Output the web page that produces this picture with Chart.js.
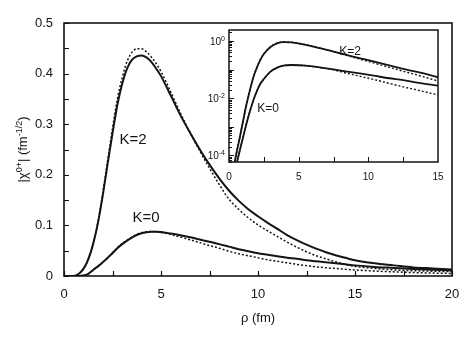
<!DOCTYPE html>
<html>
<head>
<meta charset="utf-8">
<script src="https://cdn.jsdelivr.net/npm/chart.js@4/dist/chart.umd.min.js"></script>
<style>
  html, body { margin: 0; padding: 0; background: #fff; }
  #wrap { position: relative; width: 474px; height: 345px; }
  #wrap canvas { position: absolute; left: 0; top: 0; }
</style>
</head>
<body>
<div id="wrap">
  <canvas id="main" width="474" height="345"></canvas>
  <canvas id="inset" width="474" height="345"></canvas>
</div>
<script>
// ---- main panel: |chi| on a linear scale, rho from 0 to 20 fm ----
const rhoMain = [0, 0.5, 0.75, 1.0, 1.25, 1.5, 1.75, 2.0, 2.25, 2.5, 2.75, 3.0, 3.25, 3.5, 3.75,
  4.0, 4.25, 4.5, 4.75, 5.0, 5.5, 6.0, 6.5, 7.0, 7.5, 8.0, 8.5, 9.0, 9.5, 10, 10.5, 11, 11.5,
  12, 12.5, 13, 13.5, 14, 14.5, 15, 16, 17, 18, 19, 20];

const k2Solid = [0, 0, 0.004, 0.014, 0.033, 0.063, 0.105, 0.16, 0.222, 0.282, 0.338, 0.38, 0.41, 0.427, 0.434,
  0.436, 0.432, 0.423, 0.41, 0.395, 0.357, 0.318, 0.283, 0.25, 0.22, 0.193, 0.169, 0.149, 0.132, 0.118, 0.105, 0.093, 0.081,
  0.071, 0.062, 0.054, 0.047, 0.041, 0.036, 0.031, 0.025, 0.021, 0.017, 0.015, 0.013];

const k2Dotted = [0, 0, 0.004, 0.014, 0.033, 0.064, 0.107, 0.164, 0.228, 0.292, 0.35, 0.392, 0.424, 0.442, 0.449,
  0.449, 0.443, 0.433, 0.42, 0.404, 0.364, 0.322, 0.283, 0.247, 0.213, 0.181, 0.152, 0.132, 0.115, 0.101, 0.089, 0.078, 0.067,
  0.057, 0.048, 0.04, 0.034, 0.028, 0.023, 0.019, 0.015, 0.012, 0.0105, 0.0095, 0.0085];

const k0Solid = [0, 0, 0, 0.001, 0.004, 0.012, 0.019, 0.027, 0.036, 0.045, 0.055, 0.063, 0.07, 0.076, 0.081,
  0.0845, 0.0865, 0.0875, 0.0875, 0.087, 0.084, 0.0805, 0.0765, 0.072, 0.0675, 0.063, 0.058, 0.053, 0.049, 0.045, 0.042, 0.039, 0.036,
  0.034, 0.031, 0.029, 0.027, 0.025, 0.023, 0.021, 0.018, 0.016, 0.014, 0.0125, 0.011];

const k0Dotted = [0, 0, 0, 0.001, 0.004, 0.012, 0.019, 0.027, 0.036, 0.046, 0.056, 0.064, 0.071, 0.077, 0.082,
  0.0855, 0.0875, 0.088, 0.0875, 0.086, 0.082, 0.077, 0.0715, 0.066, 0.06, 0.055, 0.049, 0.044, 0.04, 0.036, 0.032, 0.029, 0.026,
  0.023, 0.0205, 0.018, 0.0163, 0.0148, 0.0133, 0.012, 0.0099, 0.0082, 0.0068, 0.0058, 0.005];

// ---- inset: the same functions on a logarithmic scale, rho from 0 to 15 fm ----
const rhoInset = [0.3, 0.45, 0.6, 0.8, 1.0, 1.25, 1.5, 1.75, 2.0, 2.25, 2.5, 3.0, 3.5, 3.9, 4.5,
  5.5, 6.5, 7.5, 8.5, 9.5, 10.5, 11.5, 12.5, 13.5, 14.5, 15];

const k2SolidLog = [3.2e-5, 7.5e-5, 1.7e-4, 4.9e-4, 1.5e-3, 5.9e-3, 0.019, 0.054, 0.117, 0.22, 0.35, 0.63, 0.85, 0.92, 0.89,
  0.74, 0.56, 0.43, 0.32, 0.245, 0.187, 0.14, 0.107, 0.083, 0.063, 0.054];

const k2DottedLog = [3.2e-5, 7.6e-5, 1.75e-4, 5.0e-4, 1.55e-3, 6.1e-3, 0.02, 0.056, 0.12, 0.23, 0.36, 0.65, 0.87, 0.94, 0.9,
  0.75, 0.57, 0.43, 0.31, 0.225, 0.165, 0.12, 0.088, 0.065, 0.047, 0.04];

const k0SolidLog = [1.35e-5, 3.0e-5, 6.6e-5, 1.66e-4, 4.1e-4, 1.26e-3, 3.5e-3, 8.5e-3, 0.0178, 0.032, 0.047, 0.087, 0.12, 0.138, 0.145,
  0.138, 0.12, 0.102, 0.085, 0.072, 0.06, 0.05, 0.043, 0.035, 0.03, 0.0275];

const k0DottedLog = [1.35e-5, 3.0e-5, 6.6e-5, 1.66e-4, 4.1e-4, 1.26e-3, 3.5e-3, 8.5e-3, 0.0178, 0.032, 0.047, 0.087, 0.12, 0.138, 0.145,
  0.138, 0.118, 0.098, 0.074, 0.057, 0.044, 0.033, 0.025, 0.0195, 0.0148, 0.0129];

// tick values
const mainXMajor = [0, 5, 10, 15, 20];
const mainXMinor = [2.5, 7.5, 12.5, 17.5];
const mainYTicks = [0, 0.05, 0.1, 0.15, 0.2, 0.25, 0.3, 0.35, 0.4, 0.45, 0.5];
const insetXTicks = [0, 2.5, 5, 7.5, 10, 12.5];
const insetYLabelled = [1, 1e-2, 1e-4];
const insetYLabels = [['10', '0'], ['10', '-2'], ['10', '-4']];

// curve labels: [text, rho, value]
const mainCurveLabels = [['K=2', 3.56, 0.269], ['K=0', 4.23, 0.115]];
const insetCurveLabels = [['K=2', 8.69, 0.43], ['K=0', 2.8, 0.0042]];

const FONT = '"Liberation Sans", Arial, Helvetica, sans-serif';
const INK = '#141414';

function pairs(xs, ys) { return xs.map((x, i) => ({ x: x, y: ys[i] })); }

function lineSet(xs, ys, dotted, w) {
  return {
    data: pairs(xs, ys),
    borderColor: INK,
    borderWidth: dotted ? w * 0.75 : w,
    borderDash: dotted ? [2, 2] : [],
    pointRadius: 0,
    cubicInterpolationMode: 'monotone',
    fill: false
  };
}

// draws a closed frame around the plot area plus inward tick marks
const framePlugin = {
  id: 'frame',
  afterDatasetsDraw(chart, args, o) {
    const { ctx, chartArea: a } = chart;
    const xs = chart.scales.x, ys = chart.scales.y;
    ctx.save();
    ctx.strokeStyle = INK;
    ctx.lineWidth = o.tickWidth;
    ctx.beginPath();
    (o.xTicks || []).forEach(v => {
      const p = Math.round(xs.getPixelForValue(v)) + 0.5;
      ctx.moveTo(p, a.bottom); ctx.lineTo(p, a.bottom - o.tickLen);
    });
    (o.yTicks || []).forEach(t => {
      const v = Array.isArray(t) ? t[0] : t;
      const len = Array.isArray(t) ? t[1] : o.tickLen;
      const p = Math.round(ys.getPixelForValue(v)) + 0.5;
      ctx.moveTo(a.left, p); ctx.lineTo(a.left + len, p);
    });
    ctx.stroke();
    ctx.lineWidth = o.lineWidth;
    ctx.strokeRect(a.left, a.top, a.right - a.left, a.bottom - a.top);
    // curve labels
    ctx.fillStyle = INK;
    ctx.font = o.labelFont;
    ctx.textAlign = 'center';
    ctx.textBaseline = 'middle';
    (o.labels || []).forEach(l => {
      ctx.fillText(l[0], xs.getPixelForValue(l[1]), ys.getPixelForValue(l[2]));
    });
    ctx.restore();
  }
};

// text runs with raised exponents
function drawRuns(ctx, runs, x, y, size, align) {
  const supSize = Math.round(size * 0.68);
  const w = runs.map(r => { ctx.font = (r.sup ? supSize : size) + 'px ' + FONT; return ctx.measureText(r.t).width; });
  const total = w.reduce((s, v) => s + v, 0);
  let cx = align === 'right' ? x - total : x - total / 2;
  ctx.textAlign = 'left';
  ctx.textBaseline = 'alphabetic';
  runs.forEach((r, i) => {
    ctx.font = (r.sup ? supSize : size) + 'px ' + FONT;
    ctx.fillText(r.t, cx, r.sup ? y - size * 0.42 : y);
    cx += w[i];
  });
}

const titlePlugin = {
  id: 'titles',
  afterDraw(chart) {
    const { ctx, chartArea: a } = chart;
    ctx.save();
    ctx.fillStyle = INK;
    ctx.font = '13px ' + FONT;
    ctx.textAlign = 'center';
    ctx.textBaseline = 'middle';
    ctx.fillText('\u03c1 (fm)', (a.left + a.right) / 2, 318);
    ctx.translate(27, (a.top + a.bottom) / 2);
    ctx.rotate(-Math.PI / 2);
    drawRuns(ctx, [{ t: '|\u03c7' }, { t: '0+', sup: true }, { t: '| (fm' }, { t: '-1/2', sup: true }, { t: ')' }], 0, 0, 13, 'center');
    ctx.restore();
  }
};

const logLabelPlugin = {
  id: 'loglabels',
  afterDraw(chart) {
    const { ctx, chartArea: a } = chart;
    const ys = chart.scales.y;
    ctx.save();
    ctx.fillStyle = INK;
    insetYLabelled.forEach((v, i) => {
      const p = ys.getPixelForValue(v);
      drawRuns(ctx, [{ t: insetYLabels[i][0] }, { t: insetYLabels[i][1], sup: true }], a.left - 4, p + 4, 10, 'right');
    });
    ctx.restore();
  }
};

Chart.defaults.font.family = FONT;
Chart.defaults.color = INK;

// main chart
new Chart(document.getElementById('main'), {
  type: 'line',
  data: {
    datasets: [
      lineSet(rhoMain, k2Solid, false, 2),
      lineSet(rhoMain, k2Dotted, true, 2),
      lineSet(rhoMain, k0Solid, false, 2),
      lineSet(rhoMain, k0Dotted, true, 2)
    ]
  },
  options: {
    responsive: false,
    devicePixelRatio: 1,
    animation: false,
    layout: { padding: { left: 0, top: 23, right: 22, bottom: 0 } },
    plugins: {
      legend: { display: false },
      tooltip: { enabled: false },
      frame: {
        lineWidth: 1.6, tickWidth: 1.2, tickLen: 5,
        xTicks: mainXMajor.concat(mainXMinor),
        yTicks: mainYTicks,
        labels: mainCurveLabels,
        labelFont: '15px ' + FONT
      }
    },
    scales: {
      x: {
        type: 'linear', min: 0, max: 20,
        grid: { display: false, drawTicks: false },
        border: { display: false },
        afterBuildTicks: s => { s.ticks = mainXMajor.map(v => ({ value: v })); },
        ticks: { font: { size: 13 }, padding: 11, maxRotation: 0, callback: v => String(v) },
        afterFit: s => { s.height = 69; }
      },
      y: {
        type: 'linear', min: 0, max: 0.5,
        grid: { display: false, drawTicks: false },
        border: { display: false },
        ticks: { stepSize: 0.1, font: { size: 13 }, padding: 11, callback: v => String(+v.toFixed(2)) },
        afterFit: s => { s.width = 64; }
      }
    }
  },
  plugins: [framePlugin, titlePlugin]
});

// inset minor ticks on the log axis
const insetYTicks = [];
for (let e = -5; e <= 0; e++) {
  for (let m = 1; m <= 9; m++) {
    const v = m * Math.pow(10, e);
    if (v >= 5.9e-5 && v <= 2.43) insetYTicks.push([v, m === 1 ? 5 : 3]);
  }
}

new Chart(document.getElementById('inset'), {
  type: 'line',
  data: {
    datasets: [
      lineSet(rhoInset, k2SolidLog, false, 1.8),
      lineSet(rhoInset, k2DottedLog, true, 1.8),
      lineSet(rhoInset, k0SolidLog, false, 1.8),
      lineSet(rhoInset, k0DottedLog, true, 1.8)
    ]
  },
  options: {
    responsive: false,
    devicePixelRatio: 1,
    animation: false,
    layout: { padding: { left: 0, top: 30, right: 36, bottom: 0 } },
    plugins: {
      legend: { display: false },
      tooltip: { enabled: false },
      frame: {
        lineWidth: 1.5, tickWidth: 1, tickLen: 5,
        xTicks: insetXTicks,
        yTicks: insetYTicks,
        labels: insetCurveLabels,
        labelFont: '12px ' + FONT
      }
    },
    scales: {
      x: {
        type: 'linear', min: 0, max: 15,
        grid: { display: false, drawTicks: false },
        border: { display: false },
        afterBuildTicks: s => { s.ticks = [0, 5, 10, 15].map(v => ({ value: v })); },
        ticks: { font: { size: 10 }, padding: 9, maxRotation: 0, callback: v => String(v) },
        afterFit: s => { s.height = 183; }
      },
      y: {
        type: 'logarithmic', min: 5.9e-5, max: 2.43,
        grid: { display: false, drawTicks: false },
        border: { display: false },
        ticks: { display: false },
        afterFit: s => { s.width = 229; }
      }
    }
  },
  plugins: [framePlugin, logLabelPlugin]
});
</script>
</body>
</html>
